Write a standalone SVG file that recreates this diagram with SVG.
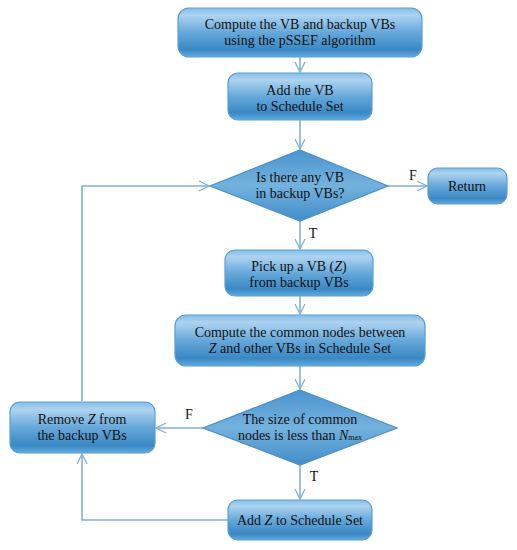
<svg xmlns="http://www.w3.org/2000/svg" width="517" height="550" viewBox="0 0 517 550">
<defs>
<linearGradient id="g" x1="0" y1="0" x2="0" y2="1">
<stop offset="0" stop-color="#86bde8"/>
<stop offset="0.15" stop-color="#add3f0"/>
<stop offset="0.5" stop-color="#66a8da"/>
<stop offset="0.85" stop-color="#3a88c4"/>
<stop offset="1" stop-color="#64aade"/>
</linearGradient>
<linearGradient id="gd" x1="0" y1="0" x2="0" y2="1">
<stop offset="0" stop-color="#4a94ce"/>
<stop offset="0.5" stop-color="#74b2de"/>
<stop offset="1" stop-color="#428dc9"/>
</linearGradient>
<marker id="a" viewBox="0 0 12 12" refX="11" refY="6" markerWidth="12" markerHeight="12" markerUnits="userSpaceOnUse" orient="auto">
<path d="M1,1 L11,6 L1,11" fill="none" stroke="#7fb1d8" stroke-width="1.3"/>
</marker>
<style>
.b{fill:url(#g);stroke:#5a9fd2;stroke-width:1.2}
.d{fill:url(#gd);stroke:#4a8fc6;stroke-width:1.2}
.t{font-family:"Liberation Serif","Times New Roman",serif;font-size:14px;fill:#111;text-anchor:middle}
.c{fill:none;stroke:#7fb1d8;stroke-width:1.6;marker-end:url(#a)}
</style>
</defs>
<g id="connectors">
<path class="c" d="M300,57 V72"/>
<path class="c" d="M300,120 V149"/>
<path class="c" d="M388,186 H427"/>
<path class="c" d="M300,221 V249"/>
<path class="c" d="M300,296 V314"/>
<path class="c" d="M300,366 V389"/>
<path class="c" d="M203,428 H156"/>
<path class="c" d="M300,465 V499"/>
<path class="c" d="M228,520 H82 V454"/>
<path class="c" d="M82,401 V186 H209"/>
<text class="t" x="413" y="180">F</text>
<text class="t" x="313" y="238">T</text>
<text class="t" x="189" y="419">F</text>
<text class="t" x="314" y="481">T</text>
</g>
<g id="n1">
<rect class="b" x="178" y="8" width="244" height="49" rx="11"/>
<text class="t" x="300" y="29">Compute the VB and backup VBs</text>
<text class="t" x="300" y="45">using the pSSEF algorithm</text>
</g>
<g id="n2">
<rect class="b" x="228" y="73" width="144" height="47" rx="10"/>
<text class="t" x="300" y="95">Add the VB</text>
<text class="t" x="300" y="111">to Schedule Set</text>
</g>
<g id="n3">
<polygon class="d" points="300,150 388,186 300,221 210,186"/>
<text class="t" x="300" y="182">Is there any VB</text>
<text class="t" x="300" y="198">in backup VBs?</text>
</g>
<g id="n4">
<rect class="b" x="428" y="168" width="79" height="36" rx="10"/>
<text class="t" x="467" y="191">Return</text>
</g>
<g id="n5">
<rect class="b" x="225" y="250" width="148" height="46" rx="10"/>
<text class="t" x="299" y="271">Pick up a VB (<tspan font-style="italic">Z</tspan>)</text>
<text class="t" x="299" y="287">from backup VBs</text>
</g>
<g id="n6">
<rect class="b" x="175" y="315" width="250" height="51" rx="11"/>
<text class="t" x="300" y="337">Compute the common nodes between</text>
<text class="t" x="300" y="353"><tspan font-style="italic">Z</tspan> and other VBs in Schedule Set</text>
</g>
<g id="n7">
<polygon class="d" points="300,390 397,428 300,465 203,428"/>
<text class="t" x="300" y="424">The size of common</text>
<text class="t" x="300" y="440">nodes is less than <tspan font-style="italic">N</tspan><tspan font-size="8">max</tspan></text>
</g>
<g id="n8">
<rect class="b" x="10" y="402" width="145" height="51" rx="10"/>
<text class="t" x="82" y="424">Remove <tspan font-style="italic">Z</tspan> from</text>
<text class="t" x="82" y="440">the backup VBs</text>
</g>
<g id="n9">
<rect class="b" x="228" y="500" width="144" height="40" rx="10"/>
<text class="t" x="300" y="525">Add <tspan font-style="italic">Z</tspan> to Schedule Set</text>
</g>
</svg>
